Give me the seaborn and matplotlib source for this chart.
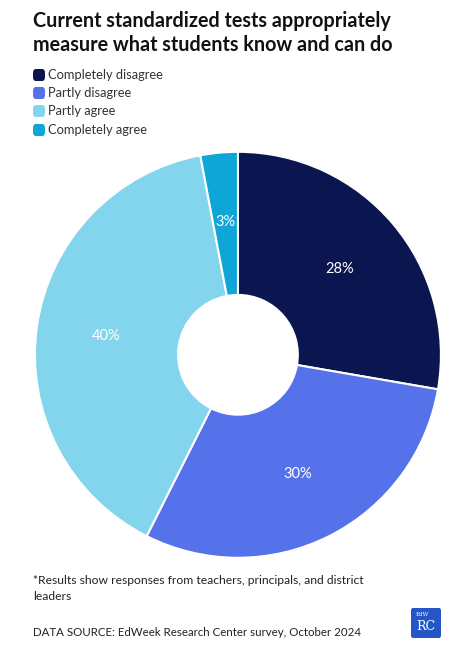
import matplotlib.pyplot as plt
import seaborn as sns
from matplotlib.patches import FancyBboxPatch

categories = ['Completely disagree', 'Partly disagree', 'Partly agree', 'Completely agree']
values = [28, 30, 40, 3]
colors = ['#0b1650', '#5672ea', '#82d5ec', '#0ea6d6']

sns.set_theme(style='white')
plt.rcParams['font.family'] = ['Lato', 'DejaVu Sans']

fig = plt.figure(figsize=(4.74, 6.51), dpi=100)

# Donut
ax = fig.add_axes([0.502 - 0.4283, 0.455 - 0.3118, 0.8566, 0.6236])
wedges, texts, autotexts = ax.pie(values, colors=colors, startangle=90, counterclock=False,
                                  autopct='%d', pctdistance=0.655,
                                  wedgeprops=dict(width=0.705, edgecolor='white', linewidth=1.5))
for t, v in zip(autotexts, values):
    t.set_text(f'{v}%')
    t.set_color('white')
    t.set_fontsize(10.5)
ax.set_xlim(-1.0, 1.0)
ax.set_ylim(-1.0, 1.0)
ax.set_aspect('equal')

# Title
fig.text(33/474, 1 - 33/651, 'Current standardized tests appropriately\nmeasure what students know and can do',
         fontsize=14.2, fontweight='bold', color='#111111', va='center', ha='left', linespacing=1.2)

# Legend
ys = [75, 93, 111, 130]
for cat, col, y in zip(categories, colors, ys):
    fig.patches.append(FancyBboxPatch((33/474, 1 - (y + 6)/651), 12/474, 12/651,
                                      boxstyle='round,pad=0,rounding_size=0.006',
                                      transform=fig.transFigure, facecolor=col, edgecolor='none'))
    fig.text(48/474, 1 - y/651, cat, fontsize=9.3, color='#333333', va='center', ha='left')

# Footer
fig.text(33/474, 1 - 580/651, '*Results show responses from teachers, principals, and district',
         fontsize=8.7, color='#222222', va='center', ha='left')
fig.text(33/474, 1 - 597/651, 'leaders', fontsize=8.7, color='#222222', va='center', ha='left')
fig.text(33/474, 1 - 632/651, 'DATA SOURCE: EdWeek Research Center survey, October 2024',
         fontsize=8.3, color='#222222', va='center', ha='left')

# Logo
fig.patches.append(FancyBboxPatch((411/474, 1 - 638/651), 30/474, 30/651,
                                  boxstyle='round,pad=0,rounding_size=0.004',
                                  transform=fig.transFigure, facecolor='#2456c8', edgecolor='none'))
fig.text(416/474, 1 - 615/651, 'EdW', fontsize=4, color='white', va='center', ha='left', family='serif')
fig.text(426/474, 1 - 626/651, 'RC', fontsize=9, color='white', va='center', ha='center', family='serif')

plt.savefig('out.png', dpi=100)
